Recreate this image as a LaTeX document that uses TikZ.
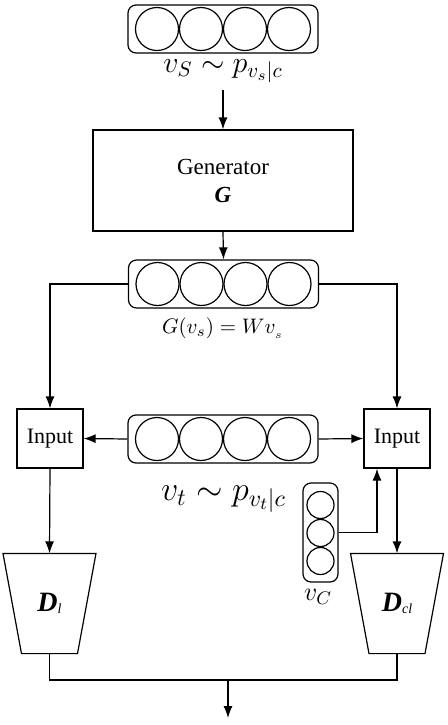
\documentclass[tikz,border=0pt]{standalone}
\usepackage{fix-cm}
\usepackage[no-math]{fontspec}
\setmainfont{Liberation Serif}
\usetikzlibrary{arrows.meta}

\begin{document}
\begin{tikzpicture}[x=0.5pt,y=-0.5pt,line width=0.6pt,
    >={Latex[length=6pt,width=4.5pt]},
    vec/.style={draw,rounded corners=4pt,minimum width=95pt,minimum height=24pt},
    cell/.style={draw,circle,minimum size=21.5pt,inner sep=0pt},
    smallcell/.style={draw,circle,minimum size=13.5pt,inner sep=0pt},
    box/.style={draw,inner sep=0pt},
    disc/.style={minimum width=46.5pt,minimum height=49.5pt,inner sep=0pt,
      font=\fontsize{14}{14}\selectfont\bfseries\itshape}]
    \useasboundingbox (0,0) rectangle (447,725);

    % source vector and generator
    \node [vec] (vs) at (223,29) {};
    \foreach \i in {1,...,4}
      \node [cell] (vs\i) at (113+44*\i,29) {};
    \node (vslab) at (223,71) {\fontsize{15}{15}\selectfont $v_S\sim p_{v_s|c}$};
    \node [box, minimum width=130pt, minimum height=50.5pt, align=center,
      font=\fontsize{11.5}{14}\selectfont] (gen) at (223,180.5) {Generator\\[0pt]{\bfseries\itshape G}};
    \draw [->] (vslab.south) -- (gen.north);

    % mapped vector
    \node [vec] (wv) at (223.5,284) {};
    \foreach \i in {1,...,4}
      \node [cell] (wv\i) at (113.5+44*\i,284) {};
    \node (wvlab) at (223,328) {\fontsize{10.5}{10.5}\selectfont $G(v_s)=Wv_{_s}$};
    \draw [->] (gen.south) -- (wv.north);

    % target vector and inputs
    \node [box, minimum width=33pt, minimum height=29.5pt, font=\fontsize{11}{11}\selectfont] (inL) at (50,438.5) {Input};
    \node [box, minimum width=33pt, minimum height=29.5pt, font=\fontsize{11}{11}\selectfont] (inR) at (397,438.5) {Input};
    \node [vec] (vt) at (223,439) {};
    \foreach \i in {1,...,4}
      \node [cell] (vt\i) at (113+44*\i,439) {};
    \node (vtlab) at (223.5,499) {\fontsize{17}{17}\selectfont $v_t\sim p_{v_t|c}$};
    \draw [->] (wv.west) -| (inL.north);
    \draw [->] (wv.east) -| (inR.north);
    \draw [->] (vt.west) -- (inL.east);
    \draw [->] (vt.east) -- (inR.west);

    % class vector
    \node [draw, rounded corners=4pt, minimum width=17.5pt, minimum height=49.5pt] (vc) at (320.5,532.5) {};
    \foreach \j in {0,1,2}
      \node [smallcell] (vc\j) at (320.5,505+28*\j) {};
    \node (vclab) at (318,597) {\fontsize{13}{13}\selectfont $v_C$};
    \draw [->] (vc.east) -| ([xshift=-10pt]inR.south);

    % discriminators
    \node [disc] (Dl) at (49.5,603.5) {D\raisebox{-0.2ex}{\fontsize{7}{7}\selectfont\mdseries l}};
    \node [disc] (Dcl) at (397,603.5) {D\raisebox{-0.2ex}{\fontsize{7}{7}\selectfont\mdseries cl}};
    \foreach \d in {Dl,Dcl}
      \draw ([xshift=-23.25pt]\d.north) -- ([xshift=23.25pt]\d.north)
        -- ([xshift=14pt]\d.south) -- ([xshift=-14pt]\d.south) -- cycle;
    \draw [->] (inL.south) -- (Dl.north);
    \draw [->] (inR.south) -- (Dcl.north);

    \coordinate (join) at (228,680);
    \coordinate (out) at (228,718);
    \draw (Dl.south) |- (join) -| (Dcl.south);
    \draw [->] (join) -- (out);
  \end{tikzpicture}
\end{document}
